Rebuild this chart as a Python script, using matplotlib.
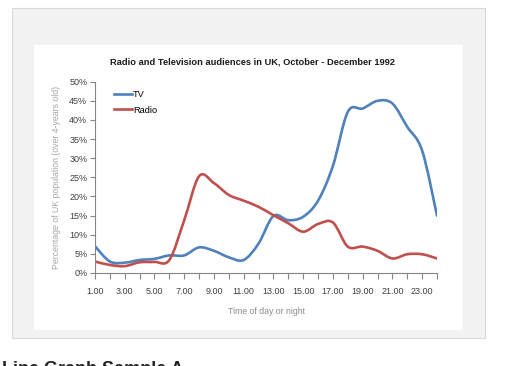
"""
Radio and Television audiences in UK, Oct-Dec 1992 (Excel-style smoothed lines).
Output: out.png (512x366)
"""
import matplotlib

matplotlib.use("Agg")
import matplotlib.pyplot as plt
from matplotlib.patches import Rectangle, PathPatch
from matplotlib.path import Path
from matplotlib.lines import Line2D

hours = list(range(1, 25))
tv = [7.0, 3.0, 2.7, 3.4, 3.7, 4.6, 4.6, 6.7, 5.8, 4.1, 3.4, 7.7,
      14.9, 13.8, 14.7, 18.9, 28.0, 42.1, 43.0, 45.0, 44.3, 38.2, 32.0, 15.0]
radio = [3.0, 2.1, 1.8, 2.8, 2.9, 3.4, 13.8, 25.3, 23.5, 20.4, 18.9, 17.3,
         15.1, 13.0, 10.8, 12.8, 13.2, 6.9, 6.9, 5.8, 3.8, 4.9, 4.9, 3.8]
xtick_labels = [f"{h}.00" for h in range(1, 25, 2)]

TV_COLOR = "#4f81bd"
RADIO_COLOR = "#c0504d"


def smooth_path(xs, ys, k=1 / 6):
    # Catmull-Rom style bezier like Excel's "smoothed line"
    verts = [(xs[0], ys[0])]
    codes = [Path.MOVETO]
    n = len(xs)
    for i in range(n - 1):
        x0, y0 = (xs[i - 1], ys[i - 1]) if i > 0 else (xs[i], ys[i])
        x1, y1 = xs[i], ys[i]
        x2, y2 = xs[i + 1], ys[i + 1]
        x3, y3 = (xs[i + 2], ys[i + 2]) if i + 2 < n else (x2, y2)
        verts += [(x1 + (x2 - x0) * k, y1 + (y2 - y0) * k),
                  (x2 - (x3 - x1) * k, y2 - (y3 - y1) * k),
                  (x2, y2)]
        codes += [Path.CURVE4] * 3
    return Path(verts, codes)


plt.rcParams["font.family"] = ["Liberation Sans", "DejaVu Sans"]

fig = plt.figure(figsize=(5.12, 3.66), dpi=100)
fig.patch.set_facecolor("white")

# gray frame and white chart area
fig.patches.append(Rectangle((12 / 512, 1 - 338 / 366), 473 / 512, 330 / 366,
                             transform=fig.transFigure, facecolor="#f2f2f2",
                             edgecolor="#d9d9d9", linewidth=0.8, zorder=-2))
fig.patches.append(Rectangle((34 / 512, 1 - 330 / 366), 429 / 512, 285 / 366,
                             transform=fig.transFigure, facecolor="white",
                             edgecolor="none", zorder=-1))

ax = fig.add_axes([95 / 512, 1 - 273 / 366, 342 / 512, 191.3 / 366])
ax.set_zorder(2)
ax.set_facecolor("none")

for ys, col in [(tv, TV_COLOR), (radio, RADIO_COLOR)]:
    ax.add_patch(PathPatch(smooth_path(hours, ys), facecolor="none",
                           edgecolor=col, linewidth=1.9, capstyle="round",
                           joinstyle="round"))

ax.set_xlim(1, 24)
ax.set_ylim(0, 50)
ax.set_yticks(range(0, 51, 5))
ax.set_yticklabels([f"{v}%" for v in range(0, 51, 5)])
ax.set_xticks(hours, minor=True)
ax.set_xticks(range(1, 25, 2))
ax.set_xticklabels(xtick_labels)

for s in ["top", "right"]:
    ax.spines[s].set_visible(False)
for s in ["left", "bottom"]:
    ax.spines[s].set_color("#868686")
    ax.spines[s].set_linewidth(0.8)

ax.tick_params(axis="y", length=3.5, width=0.8, color="#868686",
               labelsize=6.5, labelcolor="#404040", pad=2)
ax.tick_params(axis="x", which="both", length=4, width=0.8, color="#868686",
               labelsize=6.5, labelcolor="#404040", pad=6)

ax.set_xlabel("Time of day or night", fontsize=6.3, color="#8c8c8c", labelpad=8)
ax.set_ylabel("Percentage of UK population (over 4-years old)", fontsize=6.3,
              color="#a6a6a6", labelpad=6)

handles = [Line2D([], [], color=TV_COLOR, lw=1.9),
           Line2D([], [], color=RADIO_COLOR, lw=1.9)]
ax.legend(handles, ["TV", "Radio"], loc="upper left", frameon=False,
          fontsize=6.7, handlelength=2.0, handletextpad=0.1,
          labelspacing=0.7, bbox_to_anchor=(0.03, 1.0))

fig.text(253 / 512, 1 - 62 / 366,
         "Radio and Television audiences in UK, October - December 1992",
         ha="center", va="center", fontsize=6.7, fontweight="bold",
         color="#1a1a1a")

# heading below the chart, cut by the image edge as in the source screenshot
fig.text(2 / 512, 1 - 361 / 366, "Line Graph Sample A", ha="left", va="top",
         fontsize=13, fontweight="bold", color="#222222")

fig.savefig("out.png", dpi=100)
